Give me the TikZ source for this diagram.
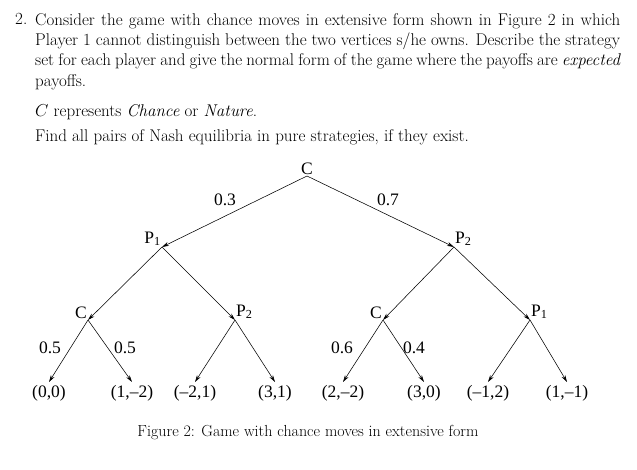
\documentclass[tikz,border=0pt]{standalone}
\usepackage{fontspec}
\usetikzlibrary{arrows.meta}
\newfontfamily\tms{Liberation Serif}
\begin{document}
\begin{tikzpicture}[x=1pt,y=-1pt,
  lab/.style={font=\tms\fontsize{17.5}{19}\selectfont, inner sep=1pt},
  edge/.style={draw, -{Stealth[length=7pt,width=4pt]}, line width=0.55pt},
  txt/.style={font=\fontsize{17}{20.4}\selectfont, inner sep=0pt, anchor=north west, align=justify}]
\useasboundingbox (0,0) rectangle (637,470);
\begin{scope}
\clip (0,0) rectangle (637,470);
\node[txt, text width=585pt] (p) at (35,13) {Consider the game with chance moves in extensive form shown in Figure 2 in which Player 1 cannot distinguish between the two vertices s/he owns. Describe the strategy set for each player and give the normal form of the game where the payoffs are \emph{expected} payoffs.};
\node[txt, anchor=north west] (n) at (15,13) {2.};
\node[txt, align=left] (c) at (35,104) {$C$ represents \emph{Chance} or \emph{Nature}.};
\node[txt, align=left] (f) at (35,129) {Find all pairs of Nash equilibria in pure strategies, if they exist.};
% vertices
\coordinate (r) at (307,176);
\coordinate (a) at (162,247);
\coordinate (b) at (454,247);
\coordinate (aa) at (88,320);
\coordinate (ab) at (235,320);
\coordinate (ba) at (383,320);
\coordinate (bb) at (530,320);
\node[lab, anchor=south] (rl) at (r) {C};
\node[lab, anchor=south east] (al) at (a) {P\textsubscript{1}};
\node[lab, anchor=south west] (bl) at (b) {P\textsubscript{2}};
\node[lab, anchor=south east] (aal) at (aa) {C};
\node[lab, anchor=south west] (abl) at (ab) {P\textsubscript{2}};
\node[lab, anchor=south east] (bal) at (ba) {C};
\node[lab, anchor=south west] (bbl) at (bb) {P\textsubscript{1}};
% leaves
\foreach \n/\x/\t in {l1/49/{(0,0)}, l2/132/{(1,–2)}, l3/195/{(–2,1)}, l4/275/{(3,1)}, l5/343/{(2,–2)}, l6/424/{(3,0)}, l7/488/{(–1,2)}, l8/567/{(1,–1)}}{
  \coordinate (\n) at (\x,382);
  \node[lab, anchor=north] (\n t) at (\x,384) {\t};
}
\draw[edge] (r) -- (a);
\draw[edge] (r) -- (b);
\draw[edge] (a) -- (aa);
\draw[edge] (a) -- (ab);
\draw[edge] (b) -- (ba);
\draw[edge] (b) -- (bb);
\draw[edge] (aa) -- (l1);
\draw[edge] (aa) -- (l2);
\draw[edge] (ab) -- (l3);
\draw[edge] (ab) -- (l4);
\draw[edge] (ba) -- (l5);
\draw[edge] (ba) -- (l6);
\draw[edge] (bb) -- (l7);
\draw[edge] (bb) -- (l8);
\node[lab] (e1) at (225,200) {0.3};
\node[lab] (e2) at (388,200) {0.7};
\node[lab] (e3) at (50,348) {0.5};
\node[lab] (e4) at (125,348) {0.5};
\node[lab] (e5) at (342,348) {0.6};
\node[lab] (e6) at (414,348) {0.4};
\node[font=\fontsize{16}{18}\selectfont, inner sep=0pt] (cap) at (308,433) {Figure 2: Game with chance moves in extensive form};
\end{scope}
\end{tikzpicture}
\end{document}
